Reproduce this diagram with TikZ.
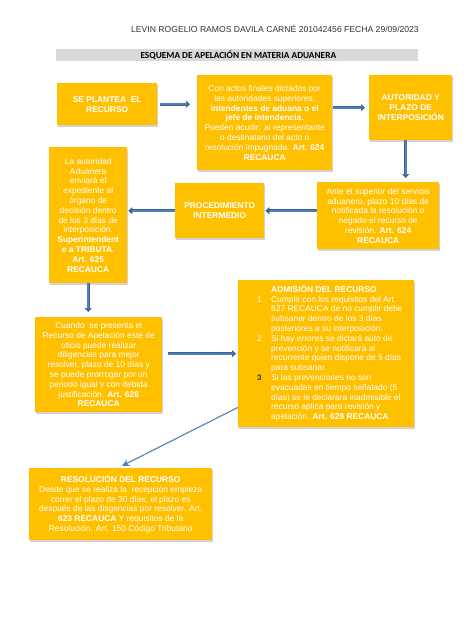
\documentclass[tikz,border=0pt]{standalone}
\usepackage{fontspec}
\setmainfont{Liberation Sans}
\newfontfamily\calibri{Carlito}
\usetikzlibrary{arrows.meta,shadows,calc}
\definecolor{oro}{HTML}{FFC000}
\definecolor{azul}{HTML}{4F81BD}
\definecolor{azulborde}{HTML}{3A6496}
\definecolor{barra}{HTML}{D9D9D9}

\begin{document}
\begin{tikzpicture}[x=1pt,y=-1pt,
    caja/.style={fill=oro, anchor=north west, inner sep=0pt, align=center,
        text=white, font=\fontsize{8.4}{9.8}\selectfont,
        drop shadow={opacity=0.35, shadow xshift=1pt, shadow yshift=-1.5pt}},
    flecha/.style={draw=azulborde, double=azul, double distance=1.6pt, line width=0.6pt,
        -{Triangle[length=4pt,width=7pt]}},
    flechafina/.style={draw=azul, line width=1.1pt, -{Stealth[length=7pt,width=7pt]}}]
    \useasboundingbox[fill=white] (0,0) rectangle (474,632);

    % encabezado
    \node[font=\fontsize{8.6}{10}\selectfont, text=black!80] (autor) at (275,29)
        {LEVIN ROGELIO RAMOS DAVILA CARNÉ 201042456 FECHA 29/09/2023};
    \fill[barra] (56,49) rectangle (418,61);
    \node[font=\calibri\bfseries\fontsize{9.3}{10}\selectfont, anchor=west] (titulo) at (137,55.5)
        {ESQUEMA DE APELACIÓN EN MATERIA ADUANERA};

    % cajas
    \node[caja, minimum width=100pt, minimum height=42pt, font=\bfseries\fontsize{8.4}{10}\selectfont]
        (plantea) at (57,83) {SE PLANTEA \ EL\\RECURSO};
    \node[caja, minimum width=135pt, minimum height=95pt] (actos) at (197,75)
        {Con actos finales dictados por\\las autoridades superiores,\\
         \textbf{intendentes de aduana o el}\\\textbf{jefe de intendencia.}\\
         Pueden acudir: al representante\\o destinatario del acto o\\
         resolución impugnada. \textbf{Art. 624}\\\textbf{RECAUCA}};
    \node[caja, minimum width=83pt, minimum height=65pt, font=\bfseries\fontsize{8.4}{10}\selectfont]
        (autoridad) at (369,75) {AUTORIDAD Y\\PLAZO DE\\INTERPOSICIÓN};
    \node[caja, minimum width=122pt, minimum height=67pt] (ante) at (317,182)
        {Ante el superior del servicio\\aduanero, plazo 10 días de\\
         notificada la resolución o\\negado el recurso de\\
         revisión. \textbf{Art. 624}\\\textbf{RECAUCA}};
    \node[caja, minimum width=89pt, minimum height=55pt, font=\bfseries\fontsize{8.4}{10}\selectfont]
        (procedimiento) at (175,183) {PROCEDIMIENTO\\INTERMEDIO};
    \node[caja, minimum width=78pt, minimum height=136pt] (expediente) at (49,147)
        {La autoridad\\Aduanera\\enviará el\\expediente al\\órgano de\\
         decisión dentro\\de los 3 días de\\interposición.\\
         \textbf{Superintendent}\\\textbf{e a TRIBUTA.}\\\textbf{Art. 625}\\\textbf{RECAUCA}};
    \node[caja, minimum width=127pt, minimum height=95pt] (cuando) at (35,317)
        {Cuando \ se presenta el\\Recurso de Apelación este de\\oficio puede realizar\\
         diligencias para mejor\\resolver, plazo de 10 días y\\se puede prorrogar por un\\
         periodo igual y con debida\\justificación. \textbf{Art. 626}\\\textbf{RECAUCA}};
    \node[caja, minimum width=176pt, minimum height=147pt, align=left] (admision) at (238,280)
        {\makebox[176pt][l]{\hspace{19pt}\begin{tabular}{@{}p{14pt}@{}l@{}}
         & \textbf{ADMISIÓN DEL RECURSO}\\
         1 & Cumplir con los requisitos del Art.\\
           & 627 RECAUCA de no cumplir debe\\
           & subsanar dentro de los 3 días\\
           & posteriores a su interposición.\\
         2 & Si hay errores se dictará auto de\\
           & prevención y se notificara al\\
           & recurrente quien dispone de 5 días\\
           & para subsanar.\\
         \textcolor{black!85}{\calibri\bfseries 3} & Si las prevenciones no son\\
           & evacuadas en tiempo señalado (5\\
           & días) se le declarara inadmisible el\\
           & recurso aplica para revisión y\\
           & apelación. \textbf{Art. 628 RECAUCA}
         \end{tabular}}};
    \node[caja, minimum width=183pt, minimum height=72pt] (resolucion) at (29,468)
        {\textbf{RESOLUCIÓN DEL RECURSO}\\Desde que se realiza la \ recepción empieza\\
         correr el plazo de 30 días, el plazo es\\después de las disgencias por resolver. Art.\\
         \textbf{623 RECAUCA} Y requisitos de la\\Resolución. Art. 150 Código Tributario};

    % flechas
    \draw[flecha, shorten <=3pt, shorten >=7pt] (plantea.east) -- (plantea.east -| actos.west);
    \draw[flecha, shorten <=1pt, shorten >=4pt] (autoridad.west -| actos.east) -- (autoridad.west);
    \draw[flecha, shorten >=4pt] ([xshift=-5pt]autoridad.south) -- ([xshift=-5pt]autoridad.south |- ante.north);
    \draw[flecha, shorten >=1pt] (procedimiento.east -| ante.west) -- (procedimiento.east);
    \draw[flecha, shorten >=1pt] (procedimiento.west) -- (procedimiento.west -| expediente.east);
    \draw[flecha, shorten >=5pt] (expediente.south) -- (expediente.south |- cuando.north);
    \draw[flecha, shorten <=6pt, shorten >=2pt] (admision.west -| cuando.east) -- (admision.west);
    \draw[flechafina, shorten >=5pt] ($(admision.south west)+(0,-20)$) -- ([xshift=-3pt]resolucion.north);
\end{tikzpicture}
\end{document}
